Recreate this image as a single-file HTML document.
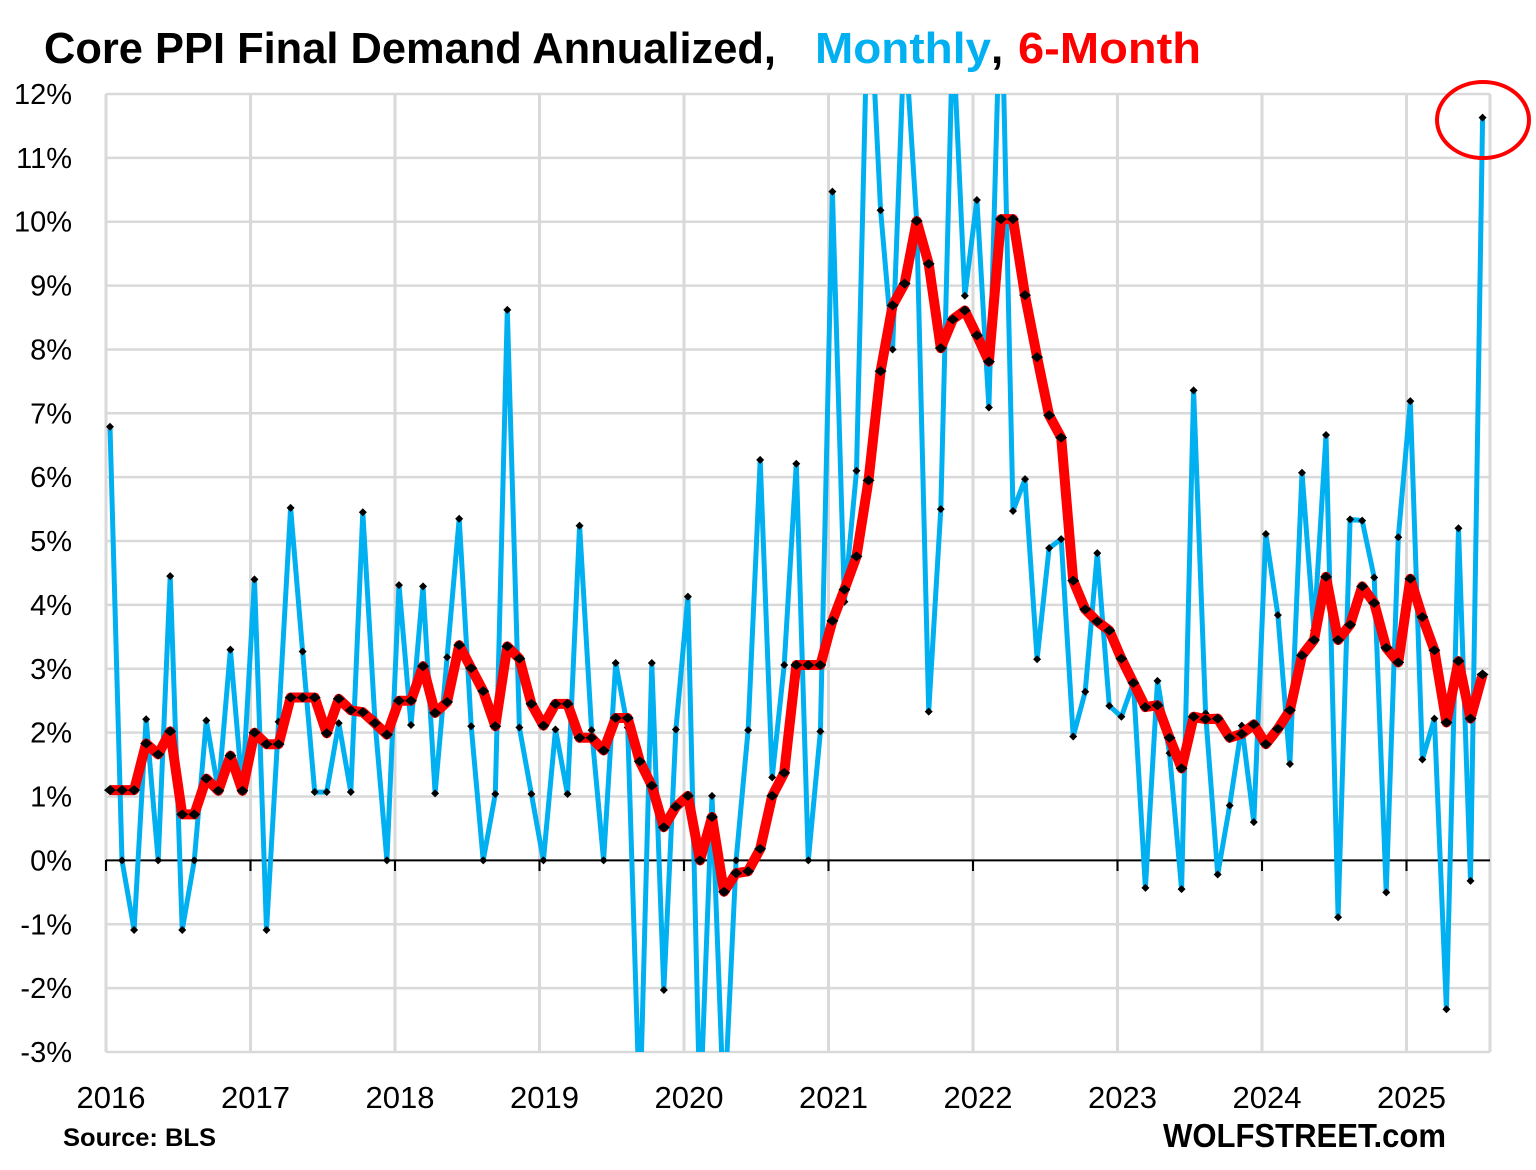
<!DOCTYPE html>
<html><head><meta charset="utf-8"><style>
html,body{margin:0;padding:0;background:#fff;}
svg{display:block;font-family:"Liberation Sans",sans-serif;}
</style></head><body>
<svg id="c" width="1536" height="1170" xmlns="http://www.w3.org/2000/svg">
<defs><clipPath id="pc"><rect x="100" y="94" width="1392" height="958"/></clipPath></defs>
<g id="grid"></g>
<g id="lines"></g>
<text x="44" y="63" font-size="44" font-weight="bold" fill="#000" textLength="732" lengthAdjust="spacingAndGlyphs">Core PPI Final Demand Annualized,</text>
<text x="815" y="63" font-size="44" font-weight="bold" fill="#00b0f0" textLength="176" lengthAdjust="spacingAndGlyphs">Monthly</text>
<text x="991" y="63" font-size="44" font-weight="bold" fill="#000">,</text>
<text x="1018" y="63" font-size="44" font-weight="bold" fill="#ff0000" textLength="183" lengthAdjust="spacingAndGlyphs">6-Month</text>
<text x="63" y="1146" font-size="25" font-weight="bold" textLength="153" lengthAdjust="spacingAndGlyphs">Source: BLS</text>
<text x="1163" y="1147" font-size="33" font-weight="bold" textLength="283" lengthAdjust="spacingAndGlyphs">WOLFSTREET.com</text>
<ellipse cx="1483" cy="120" rx="46" ry="38" fill="none" stroke="#ff0000" stroke-width="4"/>
</svg>
<script>
var blue=[6.79,0,-1.09,2.21,0,4.45,-1.09,0,2.19,1.09,3.30,1.09,
4.40,-1.09,2.17,5.52,3.27,1.07,1.07,2.15,1.07,5.45,2.2,0,
4.31,2.12,4.29,1.05,3.18,5.35,2.10,0,1.04,8.62,2.08,1.04,
0,2.05,1.04,5.24,2.04,0,3.09,2.08,-4,3.09,-2.03,2.05,
4.13,-4,1.01,-4,0,2.04,6.27,1.3,3.06,6.21,0,2.02,
10.47,4.05,6.1,14,10.18,8.0,13,10.0,2.33,5.5,13,8.84,
10.34,7.09,14,5.47,5.97,3.15,4.89,5.03,1.94,2.64,4.81,2.42,
2.25,2.78,-0.43,2.81,1.68,-0.45,7.36,2.30,-0.22,0.86,2.11,0.60,
5.11,3.84,1.51,6.07,3.6,6.66,-0.89,5.34,5.32,4.43,-0.5,5.06,
7.19,1.58,2.22,-2.33,5.2,-0.32,11.63];
var red=[1.10,1.10,1.10,1.83,1.66,2.02,0.72,0.72,1.28,1.09,1.64,1.09,
2.0,1.82,1.82,2.55,2.55,2.55,1.99,2.53,2.35,2.32,2.15,1.97,
2.50,2.50,3.04,2.31,2.48,3.37,3.01,2.65,2.10,3.35,3.16,2.45,
2.11,2.45,2.45,1.92,1.92,1.72,2.23,2.23,1.55,1.17,0.52,0.84,
1.01,0,0.68,-0.49,-0.2,-0.17,0.18,1.01,1.37,3.06,3.06,3.06,
3.75,4.24,4.76,5.95,7.66,8.69,9.03,10.01,9.34,8.02,8.47,8.61,
8.22,7.81,10.04,10.04,8.85,7.88,6.97,6.62,4.38,3.93,3.74,3.60,
3.16,2.78,2.40,2.43,1.92,1.44,2.25,2.21,2.22,1.92,1.98,2.13,
1.82,2.06,2.35,3.21,3.45,4.44,3.45,3.69,4.29,4.03,3.33,3.10,
4.41,3.81,3.29,2.16,3.12,2.22,2.91];
function X(i){return 110+12.04*i;}
function Y(v){return 860.4-63.87*v;}
var ns="http://www.w3.org/2000/svg";
function el(p,t,a,txt){var e=document.createElementNS(ns,t);for(var k in a)e.setAttribute(k,a[k]);if(txt!==undefined)e.textContent=txt;p.appendChild(e);return e;}
var g=document.getElementById('grid');
for(var v=-3;v<=12;v++){var y=Y(v);
 if(v!==0)el(g,'line',{x1:106,x2:1490,y1:y,y2:y,stroke:'#d9d9d9','stroke-width':2.5});
 el(g,'text',{x:72,y:y+10,'font-size':29,'text-anchor':'end',fill:'#000'},v+'%');}
for(var k=0;k<=9;k++){var x=106+144.5*k;
 el(g,'line',{x1:x,x2:x,y1:94,y2:1052,stroke:'#d9d9d9','stroke-width':3});
 el(g,'line',{x1:x,x2:x,y1:860,y2:871,stroke:'#000','stroke-width':2});
 el(g,'text',{x:x+5,y:1108,'font-size':31,'text-anchor':'middle',fill:'#000'},String(2016+k));}
el(g,'line',{x1:1490,x2:1490,y1:94,y2:1052,stroke:'#d9d9d9','stroke-width':3});
el(g,'line',{x1:106,x2:1490,y1:860.4,y2:860.4,stroke:'#000','stroke-width':2});
var L=document.getElementById('lines');
var cg=el(L,'g',{'clip-path':'url(#pc)'});
function pts(a){return a.map(function(v,i){return X(i).toFixed(1)+','+Y(v).toFixed(1);}).join(' ');}
el(cg,'polyline',{points:pts(blue),fill:'none',stroke:'#00b0f0','stroke-width':5,'stroke-linejoin':'round'});
blue.forEach(function(v,i){var x=X(i),y=Y(v);if(v>12.1||v<-3.1)return;
 el(cg,'polygon',{points:(x-4)+','+y+' '+x+','+(y-4)+' '+(x+4)+','+y+' '+x+','+(y+4),fill:'#000'});});
el(cg,'polyline',{points:pts(red),fill:'none',stroke:'#ff0000','stroke-width':10,'stroke-linejoin':'round'});
red.forEach(function(v,i){var x=X(i),y=Y(v);
 el(cg,'polygon',{points:(x-6)+','+y+' '+x+','+(y-5)+' '+(x+6)+','+y+' '+x+','+(y+5),fill:'#000'});});
</script>
</body></html>
